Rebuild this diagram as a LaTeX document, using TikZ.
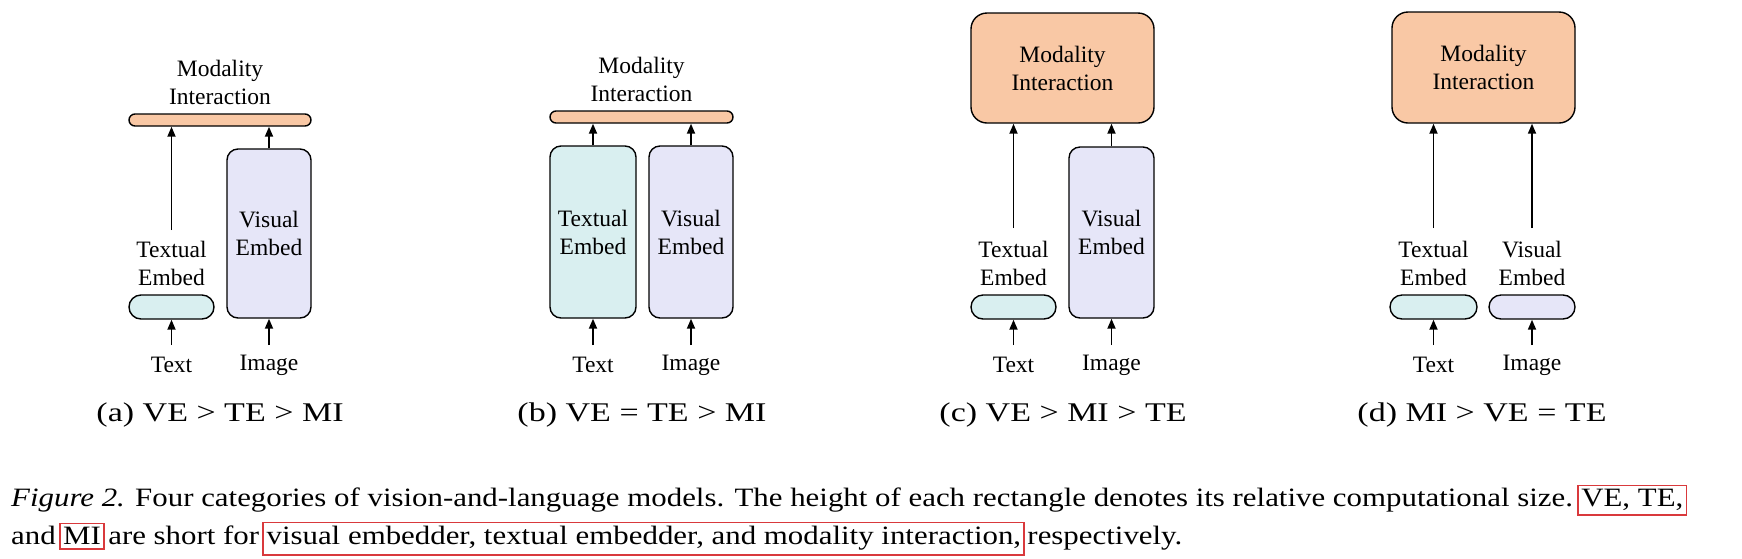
\documentclass[tikz,border=0pt]{standalone}
\usepackage{fontspec}
\setmainfont{Liberation Serif}
\newfontfamily\widefont{Liberation Serif}[FakeStretch=1.165]
\newfontfamily\subfont{Liberation Serif}[FakeStretch=1.26]
\usetikzlibrary{arrows.meta}
\definecolor{mi}{HTML}{F9C8A5}
\definecolor{te}{HTML}{D9EFF0}
\definecolor{ve}{HTML}{E6E6F8}
\definecolor{rb}{HTML}{D9393C}
\begin{document}
\begin{tikzpicture}[x=1pt,y=-1pt,
  box/.style={draw,line width=1.4pt,rounded corners=11pt,inner sep=0pt},
  bar/.style={draw,line width=1.4pt,rounded corners=6pt,inner sep=0pt},
  lab/.style={align=center,inner sep=0pt,font=\fontsize{23.5}{28}\selectfont},
  subcap/.style={inner sep=0pt,font=\subfont\fontsize{27}{32}\selectfont},
  arr/.style={-{Triangle[length=10pt,width=8pt]},line width=1.8pt},
  fc/.style={inner sep=0pt,anchor=base west,font=\widefont\fontsize{26.5}{30}\selectfont},
  rline/.style={draw=rb,line width=1.8pt}]
\useasboundingbox (0,0) rectangle (1742,558);
% ---- (a)
\node[bar,fill=mi,minimum width=182pt,minimum height=12pt] (aMI) at (220,120) {};
\node[lab] (aMIl) at (220,82) {Modality\\Interaction};
\node[box,fill=ve,minimum width=84pt,minimum height=169pt] (aVE) at (269,233.5) {};
\node[lab] at (aVE) {Visual\\Embed};
\node[bar,fill=te,minimum width=85pt,minimum height=24pt,rounded corners=12pt] (aTE) at (171.5,307) {};
\node[lab] (aTEl) at (171.5,263) {Textual\\Embed};
\node[lab] (aT) at (171.5,365) {Text};
\node[lab] (aI) at (269,365) {Image};
\coordinate (aTs) at (171.5,230); \coordinate (aTb) at (171.5,345); \coordinate (aIb) at (269,345);
\draw[arr] (aTs) -- (aTs |- aMI.south);
\draw[arr] (aVE.north) -- (aVE.north |- aMI.south);
\draw[arr] (aTb) -- (aTE.south);
\draw[arr] (aIb) -- (aVE.south);
\node[subcap] at (220,415) {(a) VE > TE > MI};
% ---- (b)
\node[bar,fill=mi,minimum width=183pt,minimum height=12pt] (bMI) at (641.5,117) {};
\node[lab] at (641.5,79) {Modality\\Interaction};
\node[box,fill=te,minimum width=86pt,minimum height=172pt] (bTE) at (593,232) {};
\node[lab] at (bTE) {Textual\\Embed};
\node[box,fill=ve,minimum width=84pt,minimum height=172pt] (bVE) at (691,232) {};
\node[lab] at (bVE) {Visual\\Embed};
\node[lab] at (593,365) {Text};
\node[lab] at (691,365) {Image};
\coordinate (bTb) at (593,345); \coordinate (bIb) at (691,345);
\draw[arr] (bTE.north) -- (bTE.north |- bMI.south);
\draw[arr] (bVE.north) -- (bVE.north |- bMI.south);
\draw[arr] (bTb) -- (bTE.south);
\draw[arr] (bIb) -- (bVE.south);
\node[subcap] at (642,415) {(b) VE = TE > MI};
% ---- (c)
\node[box,fill=mi,minimum width=183pt,minimum height=110pt,rounded corners=16pt] (cMI) at (1062.5,68) {};
\node[lab] at (cMI) {Modality\\Interaction};
\node[box,fill=ve,minimum width=85pt,minimum height=171pt] (cVE) at (1111.5,232.5) {};
\node[lab] at (cVE) {Visual\\Embed};
\node[bar,fill=te,minimum width=85pt,minimum height=24pt,rounded corners=12pt] (cTE) at (1013.5,307) {};
\node[lab] at (1013.5,263) {Textual\\Embed};
\node[lab] at (1013.5,365) {Text};
\node[lab] at (1111.5,365) {Image};
\coordinate (cTs) at (1013.5,228); \coordinate (cTb) at (1013.5,345); \coordinate (cIb) at (1111.5,345);
\draw[arr] (cTs) -- (cTs |- cMI.south);
\draw[arr] (cVE.north) -- (cVE.north |- cMI.south);
\draw[arr] (cTb) -- (cTE.south);
\draw[arr] (cIb) -- (cVE.south);
\node[subcap] at (1063,415) {(c) VE > MI > TE};
% ---- (d)
\node[box,fill=mi,minimum width=183pt,minimum height=111pt,rounded corners=16pt] (dMI) at (1483.5,67.5) {};
\node[lab] at (dMI) {Modality\\Interaction};
\node[bar,fill=te,minimum width=87pt,minimum height=24pt,rounded corners=12pt] (dTE) at (1433.5,307) {};
\node[bar,fill=ve,minimum width=86pt,minimum height=24pt,rounded corners=12pt] (dVE) at (1532,307) {};
\node[lab] at (1433.5,263) {Textual\\Embed};
\node[lab] at (1532,263) {Visual\\Embed};
\node[lab] at (1433.5,365) {Text};
\node[lab] at (1532,365) {Image};
\coordinate (dTs) at (1433.5,228); \coordinate (dVs) at (1532,228);
\coordinate (dTb) at (1433.5,345); \coordinate (dIb) at (1532,345);
\draw[arr] (dTs) -- (dTs |- dMI.south);
\draw[arr] (dVs) -- (dVs |- dMI.south);
\draw[arr] (dTb) -- (dTE.south);
\draw[arr] (dIb) -- (dVE.south);
\node[subcap] at (1482,415) {(d) MI > VE = TE};
% ---- figure caption
\node[fc] (f1) at (11,506) {\textit{Figure 2.} Four categories of vision-and-language models. The height of each rectangle denotes its relative computational size.};
\node[fc] (f2) at ([xshift=8pt]f1.base east) {VE, TE,};
\node[fc] (g1) at (11,544) {and};
\node[fc] (g2) at ([xshift=7pt]g1.base east) {MI};
\node[fc] (g3) at ([xshift=7pt]g2.base east) {are short for};
\node[fc] (g4) at ([xshift=7pt]g3.base east) {visual embedder, textual embedder, and modality interaction,};
\node[fc] (g5) at ([xshift=6pt]g4.base east) {respectively.};
\draw[rline] ([xshift=-3pt,yshift=3pt]f2.north west) rectangle ([xshift=3pt,yshift=-5pt]f2.south east);
\draw[rline] ([xshift=-3pt,yshift=3pt]g2.north west) rectangle ([xshift=3pt,yshift=-5pt]g2.south east);
\draw[rline] ([xshift=-3pt,yshift=3pt]g4.north west) rectangle ([xshift=3pt,yshift=-5pt]g4.south east);
\end{tikzpicture}
\end{document}
